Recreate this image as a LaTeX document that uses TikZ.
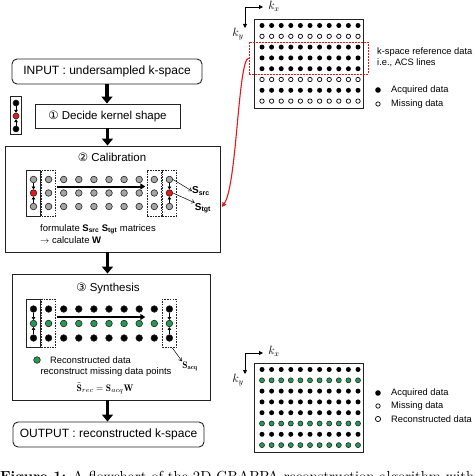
\documentclass[tikz,border=0pt]{standalone}
\usepackage{fontspec}
\setsansfont{Liberation Sans}
\newfontfamily\djv{DejaVu Sans}
\usetikzlibrary{arrows.meta,fit,calc}
\definecolor{rd}{RGB}{225,25,25}
\definecolor{gr}{RGB}{35,155,85}
\definecolor{gy}{RGB}{165,165,165}
\definecolor{ln}{RGB}{35,35,35}
\newcommand{\fs}[1]{\fontsize{#1}{#1}\selectfont}
\begin{document}
\begin{tikzpicture}[x=1pt,y=-1pt,font=\sffamily,
  flow/.style={draw=ln,line width=0.9pt,inner sep=0pt,font=\sffamily\fs{12}},
  big/.style={line width=3.8pt,-{Triangle[length=7pt,width=11pt]}},
  fdot/.style={circle,inner sep=0pt,minimum size=6.6pt,draw=ln,line width=0.6pt},
  sbox/.style={draw=ln,line width=0.7pt,inner xsep=3.5pt,inner ysep=6pt},
  dbox/.style={sbox,dash pattern=on 1.6pt off 1.1pt},
  kern/.style={line width=0.6pt,-{Triangle[length=2.8pt,width=3.6pt]}},
  harrow/.style={line width=2pt,-{Triangle[length=5pt,width=6pt]}},
  ptr/.style={line width=0.5pt,-{Straight Barb[length=3pt,width=4pt]}},
  kA/.style={circle,inner sep=0pt,minimum size=5pt,fill=black},
  kM/.style={circle,inner sep=0pt,minimum size=4.4pt,draw=black,line width=0.7pt,fill=white},
  kR/.style={circle,inner sep=0pt,minimum size=5pt,draw=ln,line width=0.6pt,fill=gr},
  lab/.style={anchor=west,inner sep=0pt,font=\sffamily\fs{9.3}},
  axis/.style={line width=0.8pt,-{Triangle[length=4pt,width=4pt]}},
  gbox/.style={draw=ln,line width=0.9pt,inner sep=0pt,minimum width=109pt,minimum height=89pt}
]
\useasboundingbox (0,0) rectangle (474,476);
\clip (0,0) rectangle (474,476);

% ---------- flowchart boxes ----------
\node[flow,rounded corners=5pt,minimum width=190pt,minimum height=25pt] (input) at (107,71.5) {INPUT : undersampled k-space};
\node[flow,minimum width=145pt,minimum height=24pt,font=\sffamily\fs{11.5}] (step1) at (107.5,116) {{\djv ①} Decide kernel shape};
\node[flow,minimum width=215pt,minimum height=106pt] (calib) at (112.5,199) {};
\node[font=\sffamily\fs{11.5},inner sep=0pt] (ctitle) at (112,157) {{\djv ②} Calibration};
\node[flow,minimum width=198pt,minimum height=126pt] (synth) at (111,337) {};
\node[font=\sffamily\fs{11.5},inner sep=0pt] (stitle) at (108,288) {{\djv ③} Synthesis};
\node[flow,rounded corners=5pt,minimum width=191pt,minimum height=25pt] (output) at (108.5,434.5) {OUTPUT : reconstructed k-space};

\draw[big] (input.south) -- (input.south |- step1.north);
\draw[big] (step1.south) -- (step1.south |- calib.north);
\draw[big] (step1.south |- calib.south) -- (step1.south |- synth.north);
\draw[big] (step1.south |- synth.south) -- (step1.south |- output.north);

% ---------- kernel icon ----------
\node[draw=ln,line width=0.8pt,minimum width=11pt,minimum height=38pt,inner sep=0pt] (icon) at (16,115.5) {};
\node[fdot,fill=black,minimum size=6pt] (i1) at (16,103) {};
\node[fdot,fill=rd,minimum size=6pt] (i2) at (16,116) {};
\node[fdot,fill=black,minimum size=6pt] (i3) at (16,129) {};
\draw[kern] (i1) -- (i2);
\draw[kern] (i3) -- (i2);

% ---------- calibration grid ----------
\foreach \c in {1,...,10}{
  \foreach \r/\y in {1/179.5,2/193,3/206.5}{
    \def\fc{gy}
    \ifnum\r=2 \ifnum\c=1 \def\fc{rd}\fi \ifnum\c=10 \def\fc{rd}\fi \fi
    \node[fdot,fill=\fc] (ca\c-\r) at ({33.5+15.1*(\c-1)},\y) {};
  }}
\node[sbox,fit=(ca1-1)(ca1-3)] (cb1) {};
\node[dbox,fit=(ca2-1)(ca2-3)] (cb2) {};
\node[dbox,fit=(ca9-1)(ca9-3)] (cb9) {};
\node[dbox,fit=(ca10-1)(ca10-3)] (cb10) {};
\draw[kern] (ca1-1) -- (ca1-2);
\draw[kern] (ca1-3) -- (ca1-2);
\draw[kern] (ca10-1) -- (ca10-2);
\draw[kern] (ca10-3) -- (ca10-2);
\draw[harrow] ($(ca2-2)+(8.5,-6.5)$) -- ($(ca9-2)+(-9,-6.5)$);
\node[inner sep=0pt,font=\sffamily\bfseries\fs{10}] (src) at (201,191) {S\textsubscript{src}};
\node[inner sep=0pt,font=\sffamily\bfseries\fs{10}] (tgt) at (203,208) {S\textsubscript{tgt}};
\draw[ptr] (ca10-1.east) -- (src.west);
\draw[ptr] (ca10-2.east) -- (tgt.north west);
\node[anchor=west,inner sep=0pt,font=\sffamily\fs{9.5}] (form) at (40,229.5) {formulate \textbf{S}\textsubscript{\textbf{src}} \textbf{S}\textsubscript{\textbf{tgt}} matrices};
\node[anchor=west,inner sep=0pt,font=\sffamily\fs{9.5}] (calcw) at (40,240.5) {$\rightarrow$ calculate \textbf{W}};

% ---------- synthesis grid ----------
\foreach \c in {1,...,10}{
  \foreach \r/\y in {1/309,2/323.5,3/338}{
    \def\fc{black}
    \ifnum\r=2 \def\fc{gr}\fi
    \node[fdot,fill=\fc] (sa\c-\r) at ({33.5+15.1*(\c-1)},\y) {};
  }}
\node[sbox,fit=(sa1-1)(sa1-3)] (sb1) {};
\node[dbox,fit=(sa2-1)(sa2-3)] (sb2) {};
\node[dbox,fit=(sa10-1)(sa10-3)] (sb10) {};
\draw[kern] (sa1-1) -- (sa1-2);
\draw[kern] (sa1-3) -- (sa1-2);
\draw[kern] (sa10-1) -- (sa10-2);
\draw[kern] (sa10-3) -- (sa10-2);
\draw[harrow] ($(sa2-2)+(8.5,-6.5)$) -- ($(sa9-2)+(-9,-6.5)$);
\node[fdot,fill=gr] (legR) at (37,360) {};
\node[anchor=west,inner sep=0pt,font=\sffamily\fs{9.3}] (legRt) at (50,360) {Reconstructed data};
\node[inner sep=0pt,font=\sffamily\fs{9.5}] (recon) at (106,372.5) {reconstruct missing data points};
\node[inner sep=0pt,font=\fs{9.5}] (eq) at (105,388.5) {$\tilde{\mathbf{S}}_{rec}=\mathbf{S}_{acq}\mathbf{W}$};
\node[inner sep=0pt,font=\fs{9.5}] (acq) at (190,366) {$\mathbf{S}_{\mathbf{acq}}$};
\draw[ptr] ($(sb10.south)+(3,0)$) -- (acq.north west);

% ---------- top k-space ----------
\node[gbox] (g1) at (308.5,63.5) {};
\foreach \r/\tp in {1/A,2/M,3/A,4/A,5/A,6/M,7/A,8/M}{
  \foreach \c in {1,...,11}{
    \node[k\tp] (ga\c-\r) at ({262+9.6*(\c-1)},{25.5+10.8*(\r-1)}) {};
  }}
\node[draw=rd,line width=0.8pt,dash pattern=on 1.8pt off 1.2pt,inner sep=0pt,minimum width=119pt,minimum height=32pt] (acs) at (308.5,58) {};
\coordinate (o1) at (245,7);
\coordinate (kx1) at (263,7);
\coordinate (ky1) at (245,28);
\draw[axis] (o1) -- (kx1);
\draw[axis] (o1) -- (ky1);
\node[inner sep=0pt,font=\fs{12}] (kxl1) at (274,6) {$k_x$};
\node[inner sep=0pt,font=\fs{12}] (kyl1) at (238,34) {$k_y$};
\node[lab] (ref1) at (377,52) {k-space reference data};
\node[lab] (ref2) at (377,62.5) {i.e., ACS lines};
\node[kA,minimum size=5.6pt] (l1a) at (378,90) {};
\node[lab] (l1at) at (391,90) {Acquired data};
\node[kM] (l1m) at (378,104) {};
\node[lab] (l1mt) at (391,104) {Missing data};
\draw[rd,line width=1.1pt,-{Triangle[length=4.5pt,width=4.5pt]}] (acs.west) .. controls (238,60) and (237,185) .. ($(calib.east)+(1.5,8)$);

% ---------- bottom k-space ----------
\node[gbox] (g2) at (308.5,407.5) {};
\foreach \r/\tp in {1/A,2/R,3/A,4/A,5/A,6/R,7/A,8/R}{
  \foreach \c in {1,...,11}{
    \node[k\tp] (gb\c-\r) at ({262+9.6*(\c-1)},{369.5+10.8*(\r-1)}) {};
  }}
\coordinate (o2) at (245,353);
\coordinate (kx2) at (263,353);
\coordinate (ky2) at (245,374);
\draw[axis] (o2) -- (kx2);
\draw[axis] (o2) -- (ky2);
\node[inner sep=0pt,font=\fs{12}] (kxl2) at (274,351) {$k_x$};
\node[inner sep=0pt,font=\fs{12}] (kyl2) at (238,380) {$k_y$};
\node[kA,minimum size=5.6pt] (l2a) at (378,393) {};
\node[lab] (l2at) at (391,393) {Acquired data};
\node[kM] (l2m) at (378,406) {};
\node[lab] (l2mt) at (391,406) {Missing data};
\node[kM,minimum size=5.2pt] (l2r) at (378,419) {};
\node[lab] (l2rt) at (391,419) {Reconstructed data};

% ---------- caption (cut off at the bottom edge) ----------
\node[anchor=north west,inner sep=0pt,font=\rmfamily] (cap) at (0,471) {\resizebox{474pt}{!}{\textbf{Figure 1:} A flowchart of the 2D-GRAPPA reconstruction algorithm with}};
\end{tikzpicture}
\end{document}
